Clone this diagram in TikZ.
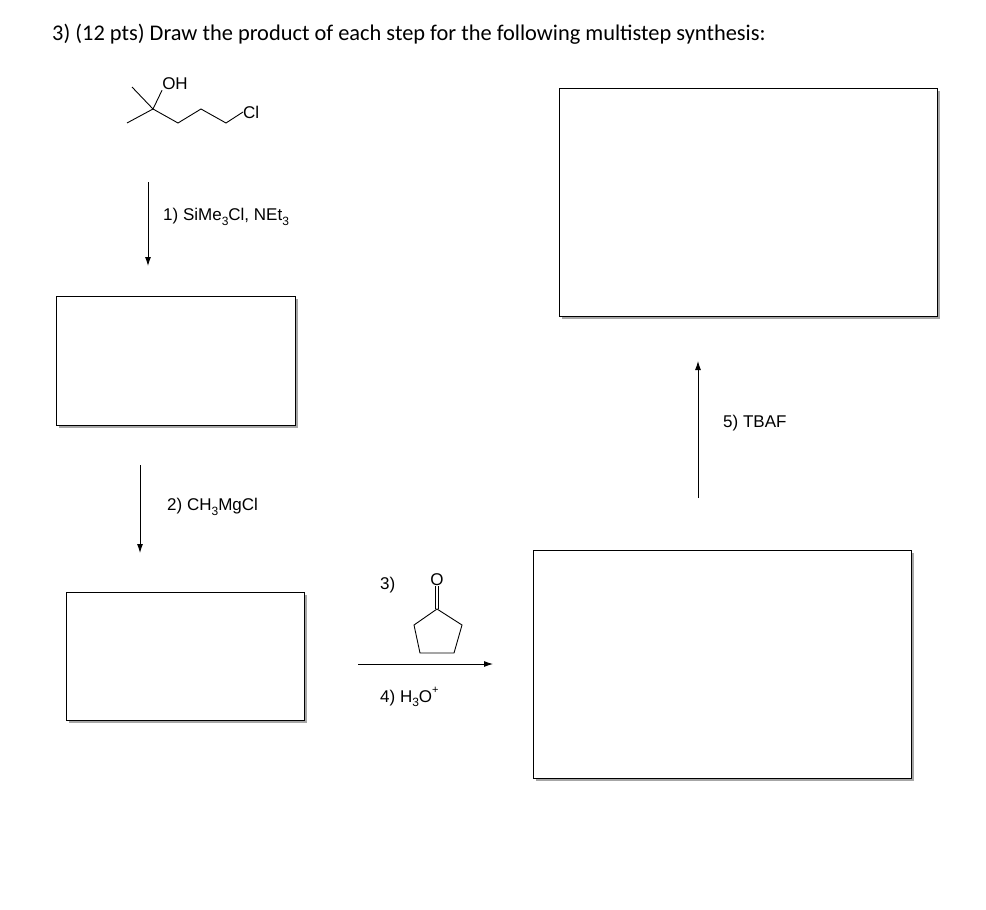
\documentclass[tikz,border=0pt]{standalone}
\usepackage{fontspec}
\setmainfont{Liberation Sans}
\newfontfamily\titlefont{Carlito}
\usetikzlibrary{arrows.meta}
\newcommand{\sbs}[1]{\raisebox{-0.25em}{\fontsize{12}{12}\selectfont #1}}
\newcommand{\sps}[1]{\raisebox{0.55em}{\fontsize{11}{11}\selectfont #1}}
\begin{document}
\begin{tikzpicture}[x=1pt,y=-1pt,
  ansbox/.style={draw=black,line width=1pt,fill=white},
  shadowbox/.style={fill=black!35},
  bond/.style={line width=0.9pt},
  rxn/.style={line width=0.9pt,-{Latex[length=9pt,width=6pt]}},
  lbl/.style={font=\fontsize{17}{19}\selectfont,anchor=west,inner sep=0pt},
  atom/.style={font=\fontsize{17}{19}\selectfont,inner sep=0pt}]
\useasboundingbox[fill=white] (0,0) rectangle (986,910);
\node[anchor=west,inner sep=0pt,font=\titlefont\fontsize{22.4}{24}\selectfont] (title) at (52,34) {3) (12 pts) Draw the product of each step for the following multistep synthesis:};
% starting material
\coordinate (m1) at (132,87);
\coordinate (q) at (153,109);
\coordinate (m2) at (127,123);
\coordinate (c1) at (178,123);
\coordinate (c2) at (201,109);
\coordinate (c3) at (226,123);
\node[atom] (oh) at (175,84) {OH};
\node[atom,anchor=west] (cl) at (243,112) {Cl};
\draw[bond] (m1) -- (q) -- (m2);
\draw[bond] (q) -- (oh.south west);
\draw[bond] (q) -- (c1) -- (c2) -- (c3) -- (cl.west);
% boxes
\foreach \n/\a/\b/\c/\d in {b1/559/88/937/316, b2/56/296/295/425, b3/66/592/304/720, b4/533/550/911/778}{
  \fill[shadowbox] (\a+3,\b+3) rectangle (\c+3,\d+3);
  \draw[ansbox] (\a,\b) rectangle (\c,\d);
  \coordinate (\n) at (\a,\b);
}
% arrows
\coordinate (a1s) at (148,182); \coordinate (a1e) at (148,266);
\draw[rxn] (a1s) -- (a1e);
\node[lbl] (l1) at (163,217) {1) SiMe\sbs{3}Cl, NEt\sbs{3}};
\coordinate (a2s) at (140,465); \coordinate (a2e) at (140,553);
\draw[rxn] (a2s) -- (a2e);
\node[lbl] (l2) at (167,507) {2) CH\sbs{3}MgCl};
\coordinate (a5s) at (698,498); \coordinate (a5e) at (698,361);
\draw[rxn] (a5s) -- (a5e);
\node[lbl] (l5) at (723,423) {5) TBAF};
\coordinate (a3s) at (358,664); \coordinate (a3e) at (493,664);
\draw[rxn] (a3s) -- (a3e);
\node[lbl] (l3) at (380,585) {3)};
\node[lbl] (l4) at (380,697) {4) H\sbs{3}O\sps{+}};
% cyclopentanone
\node[atom] (o) at (437,580) {O};
\coordinate (k) at (437,609);
\coordinate (r1) at (414,625); \coordinate (r2) at (420,653);
\coordinate (r3) at (454,653); \coordinate (r4) at (462,625);
\draw[bond] (k) -- (r1) -- (r2) -- (r3) -- (r4) -- cycle;
\draw[bond] ([xshift=-1.8pt]k) -- ([xshift=-1.8pt]o.south);
\draw[bond] ([xshift=1.8pt]k) -- ([xshift=1.8pt]o.south);
\end{tikzpicture}
\end{document}
